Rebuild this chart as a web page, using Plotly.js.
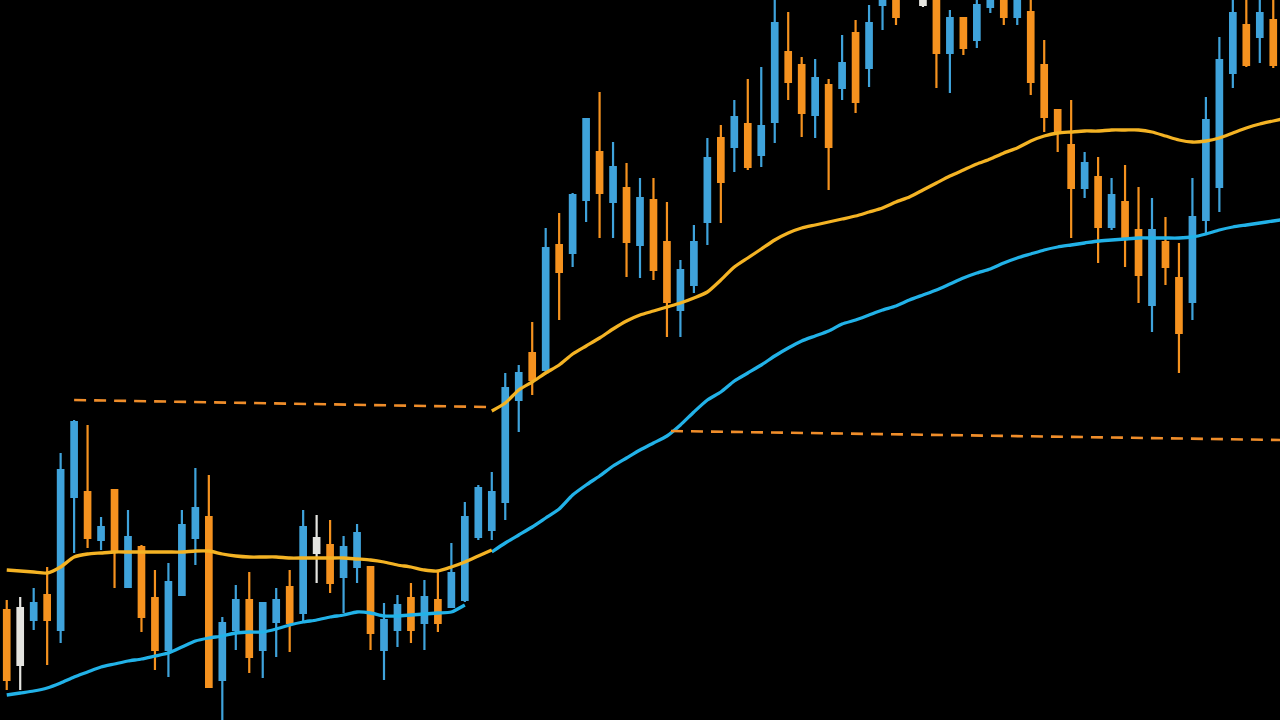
<!DOCTYPE html>
<html>
<head>
<meta charset="utf-8">
<script src="https://cdn.plot.ly/plotly-3.0.1.min.js"></script>
<style>
html,body{margin:0;padding:0;background:#000;}
#chart{width:1280px;height:720px;}
</style>
</head>
<body>
<div id="chart"></div>
<script>
// Bar index (time)
const bars = Array.from({length: 96}, (_, i) => i);

// OHLC values (arbitrary price units)
const openP  = [110,112,100,125, 90,223,228,180,230,133,173,122, 70,125,182,203, 40, 90,120, 70, 98,133,107,182,
                175,143,153,153, 70, 90,122, 97,120,113,120,183,190,218,320,367,350,475,467,520,568,518,532,475,
                520,478,410,435,498,582,573,596,565,598,668,655,605,635,632,687,652,715,750,730,760,740,667,702,
                680,713,750,703,708,655,610,575,532,543,493,518,490,415,478,442,418,500,533,647,695,683,700,677];
const highP  = [120,123,132,153,267,300,295,203,230,210,175,150,157,210,252,245,103,135,148,118,132,150,210,205,
                200,184,196,153,117,125,137,140,148,177,218,235,248,347,355,398,492,507,527,602,628,578,557,542,
                542,518,460,495,582,595,620,641,653,730,708,663,661,641,685,700,715,760,760,760,770,760,710,703,
                725,760,760,760,722,680,610,620,568,563,542,555,533,522,503,477,542,623,683,725,725,725,725,700];
const lowP   = [ 30, 30, 90, 55, 77,167,172,170,132,132, 88, 50, 43,125,155, 32,  0, 70, 47, 42, 63, 68, 97,137,
                127,107,137, 70, 40, 73, 77, 70, 88,113,118,180,180,200,288,325,347,400,453,498,482,482,443,442,
                440,383,383,427,475,497,548,550,553,577,620,583,582,530,620,607,633,690,695,725,713,632,627,665,
                672,707,695,695,625,588,568,482,522,457,490,453,417,388,435,347,400,487,508,632,653,657,652,620];
const closeP = [ 40, 55,117,100,250,298,182,193,168,183,103, 70,138,195,212, 33, 97,120, 63,117,120, 97,193,167,
                137,173,187, 87,100,115, 90,123, 97,147,203,232,228,332,347,340,472,448,525,601,527,553,478,522,
                450,418,450,478,562,538,603,553,594,697,638,607,642,573,657,618,697,750,703,750,715,667,702,672,
                715,750,703,745,638,603,588,532,557,493,525,482,445,490,453,387,503,600,660,707,655,707,655,630];

// Bars drawn in the neutral (white) colour
const neutralBars = [1, 23, 68];

// Moving averages (each segment starts at the given bar)
const fastMA_A = [150,149,148,147,153,163,166,167,168,168,168,168,168,168,169,169,166,164,163,163,163,162,162,162,
                  162,162,161,160,158,155,153,150,149,153,158,164,170];
const fastMA_B = [309,317,330,338,347,355,366,374,382,391,399,405,409,413,417,422,428,440,453,462,471,480,487,492,
                  495,498,501,504,508,512,518,523,530,537,544,550,556,561,567,572,579,584,587,588,589,589,590,590,
                  590,588,584,580,578,579,582,587,592,596,599,602];
const slowMA_A = [ 25, 27, 29, 32, 37, 43, 48, 53, 56, 59, 61, 64, 67, 73, 79, 82, 84, 87, 88, 88, 91, 95, 98,100,
                  103,105,108,107,104,104,105,106,107,108,115];
const slowMA_B = [168,177,185,193,202,211,225,235,244,254,262,270,277,284,295,308,320,328,339,347,355,364,372,379,
                  384,389,396,400,405,410,414,420,425,430,436,442,447,451,457,462,466,470,473,475,477,479,480,481,
                  482,482,482,482,483,486,490,493,495,497,499,501];
const fastMA_B_start = 36;
const slowMA_B_start = 36;

// Horizontal levels (dashed)
const level1 = {from: 5, to: 35.6, start: 320, end: 313};
const level2 = {from: 49.3, to: 94.6, start: 289, end: 280};

const BLUE = '#3fa3db';
const ORANGE = '#f5921f';
const WHITE = '#e4e4e0';

const mainIdx = bars.filter(i => !neutralBars.includes(i));
const pick = (arr, idx) => idx.map(i => arr[i]);

const traces = [];
traces.push({
  type: 'candlestick',
  x: pick(bars, mainIdx), open: pick(openP, mainIdx), high: pick(highP, mainIdx),
  low: pick(lowP, mainIdx), close: pick(closeP, mainIdx),
  increasing: {line: {color: BLUE, width: 2.2}, fillcolor: BLUE},
  decreasing: {line: {color: ORANGE, width: 2.2}, fillcolor: ORANGE},
  whiskerwidth: 0, hoverinfo: 'skip'
});
traces.push({
  type: 'candlestick',
  x: pick(bars, neutralBars), open: pick(openP, neutralBars), high: pick(highP, neutralBars),
  low: pick(lowP, neutralBars), close: pick(closeP, neutralBars),
  increasing: {line: {color: WHITE, width: 2.2}, fillcolor: WHITE},
  decreasing: {line: {color: WHITE, width: 2.2}, fillcolor: WHITE},
  whiskerwidth: 0, hoverinfo: 'skip'
});

function lineTrace(vals, start, color) {
  return {type: 'scatter', mode: 'lines', x: vals.map((_, k) => start + k),
          y: vals, line: {color: color, width: 3.3, shape: 'spline', smoothing: 0.6}, hoverinfo: 'skip'};
}
traces.push(lineTrace(slowMA_A, 0, '#22b2e8'));
traces.push(lineTrace(slowMA_B, slowMA_B_start, '#22b2e8'));
traces.push(lineTrace(fastMA_A, 0, '#f4b324'));
traces.push(lineTrace(fastMA_B, fastMA_B_start, '#f4b324'));

[level1, level2].forEach(l => traces.push({
  type: 'scatter', mode: 'lines', x: [l.from, l.to], y: [l.start, l.end],
  line: {color: '#ef8d2a', width: 2.6, dash: '12px,8px'}, hoverinfo: 'skip'
}));

const layout = {
  width: 1280, height: 720,
  margin: {l: 0, r: 0, t: 0, b: 0},
  paper_bgcolor: '#000', plot_bgcolor: '#000',
  showlegend: false,
  boxgap: 0.42,
  xaxis: {visible: false, range: [-0.5, 94.5], rangeslider: {visible: false}, fixedrange: true},
  yaxis: {visible: false, range: [0, 720], fixedrange: true}
};

Plotly.newPlot('chart', traces, layout, {staticPlot: true, displayModeBar: false});
</script>
</body>
</html>
